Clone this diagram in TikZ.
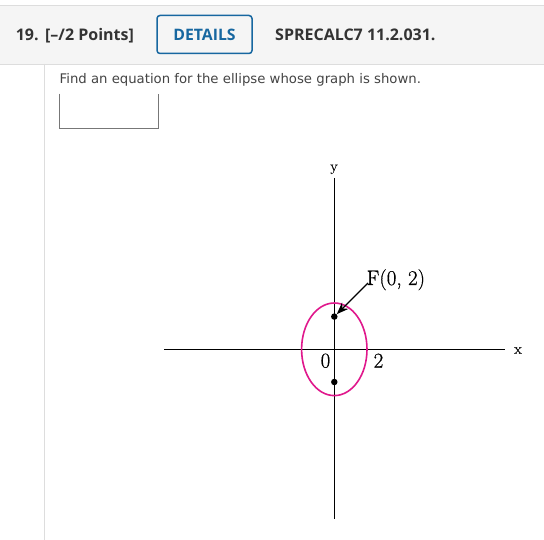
\documentclass[tikz,border=0pt]{standalone}
\usepackage{fontspec}
\newfontfamily\hdrfont{Open Sans}
\newfontfamily\txtfont{DejaVu Sans}
\newfontfamily\lblfont[FakeBold=0.6]{Latin Modern Roman}
\usetikzlibrary{arrows.meta}
\definecolor{hdrgray}{HTML}{F5F5F5}
\definecolor{rulegray}{HTML}{DDDDDD}
\definecolor{hdrtext}{HTML}{333333}
\definecolor{txtgray}{HTML}{444444}
\definecolor{boxgray}{HTML}{777777}
\definecolor{btnblue}{HTML}{1767A0}
\definecolor{curvepink}{HTML}{E0188C}
\tikzset{
  axis/.style={black, line width=0.9pt},
  ellcurve/.style={curvepink, line width=1.6pt},
  focdot/.style={circle, fill=black, inner sep=0pt, minimum size=6.5pt},
  graphlbl/.style={inner sep=0pt, font=\lblfont\fontsize{21}{24}\selectfont},
  axislbl/.style={inner sep=0pt, font=\lblfont\fontsize{15}{17}\selectfont},
  hdrlbl/.style={inner sep=0pt, anchor=base west, text=hdrtext,
    font=\hdrfont\bfseries\fontsize{16}{19}\selectfont},
  btnbox/.style={draw=btnblue, line width=1.5pt, rounded corners=3pt,
    minimum width=95pt, minimum height=38pt, text=btnblue,
    font=\hdrfont\bfseries\fontsize{15.8}{18}\selectfont},
}
\begin{document}
\begin{tikzpicture}[x=1pt,y=1pt]
    \useasboundingbox (0,0) rectangle (544,-540);
    \fill[white] (0,0) rectangle (544,-540);
    % header band
    \fill[hdrgray] (0,-5.5) rectangle (544,-64);
    \draw[rulegray] (0,-5.5) -- (544,-5.5);
    \draw[rulegray] (0,-64) -- (544,-64);
    \draw[rulegray] (44.5,-64) -- (44.5,-540);
    \node[hdrlbl] (qnum) at (15.6,-40.7) {19.};
    \node[hdrlbl] (qpts) at (45,-40.7) {[–/2 Points]};
    \node[btnbox] (details) at (204.5,-34.5) {DETAILS};
    \node[hdrlbl] (qref) at (275,-40.7) {SPRECALC7 11.2.031.};
    %
    \node[anchor=base west, inner sep=0pt, text=txtgray,
      font=\txtfont\fontsize{13.25}{15}\selectfont] (prompt) at (59.5,-83.3)
      {Find an equation for the ellipse whose graph is shown.};
    \draw[boxgray, line width=1.2pt] (59.3,-93.7) -- (59.3,-128.3) -- (158.3,-128.3) -- (158.3,-93.7);
    %
    \coordinate (O) at (334.3,-349.3);
    \coordinate (xl) at (164,-349.3);
    \coordinate (xr) at (505,-349.3);
    \coordinate (yt) at (334.3,-178);
    \coordinate (yb) at (334.3,-519);
    \draw[axis] (xl) -- (xr);
    \draw[axis] (yt) -- (yb);
    \draw[ellcurve] (O) ellipse [x radius=32.7pt, y radius=46.3pt];
    %
    \node[focdot] (focA) at (334.3,-316.6) {};
    \node[focdot] (focB) at (334.3,-382) {};
    \node[graphlbl, anchor=base west] (lblF) at (366.5,-285) {F(0, 2)};
    \draw[-{Stealth[length=12pt,width=9pt]}, line width=1.2pt] ([shift={(1.5pt,2pt)}]lblF.base west) -- (focA);
    \node[graphlbl, anchor=base] (lblO) at (325.5,-367.5) {0};
    \node[graphlbl, anchor=base] (lblTwo) at (378.5,-367.5) {2};
    \node[axislbl, anchor=base] (lblY) at (334,-171) {y};
    \node[axislbl] (lblX) at (518,-350.5) {x};
\end{tikzpicture}
\end{document}
